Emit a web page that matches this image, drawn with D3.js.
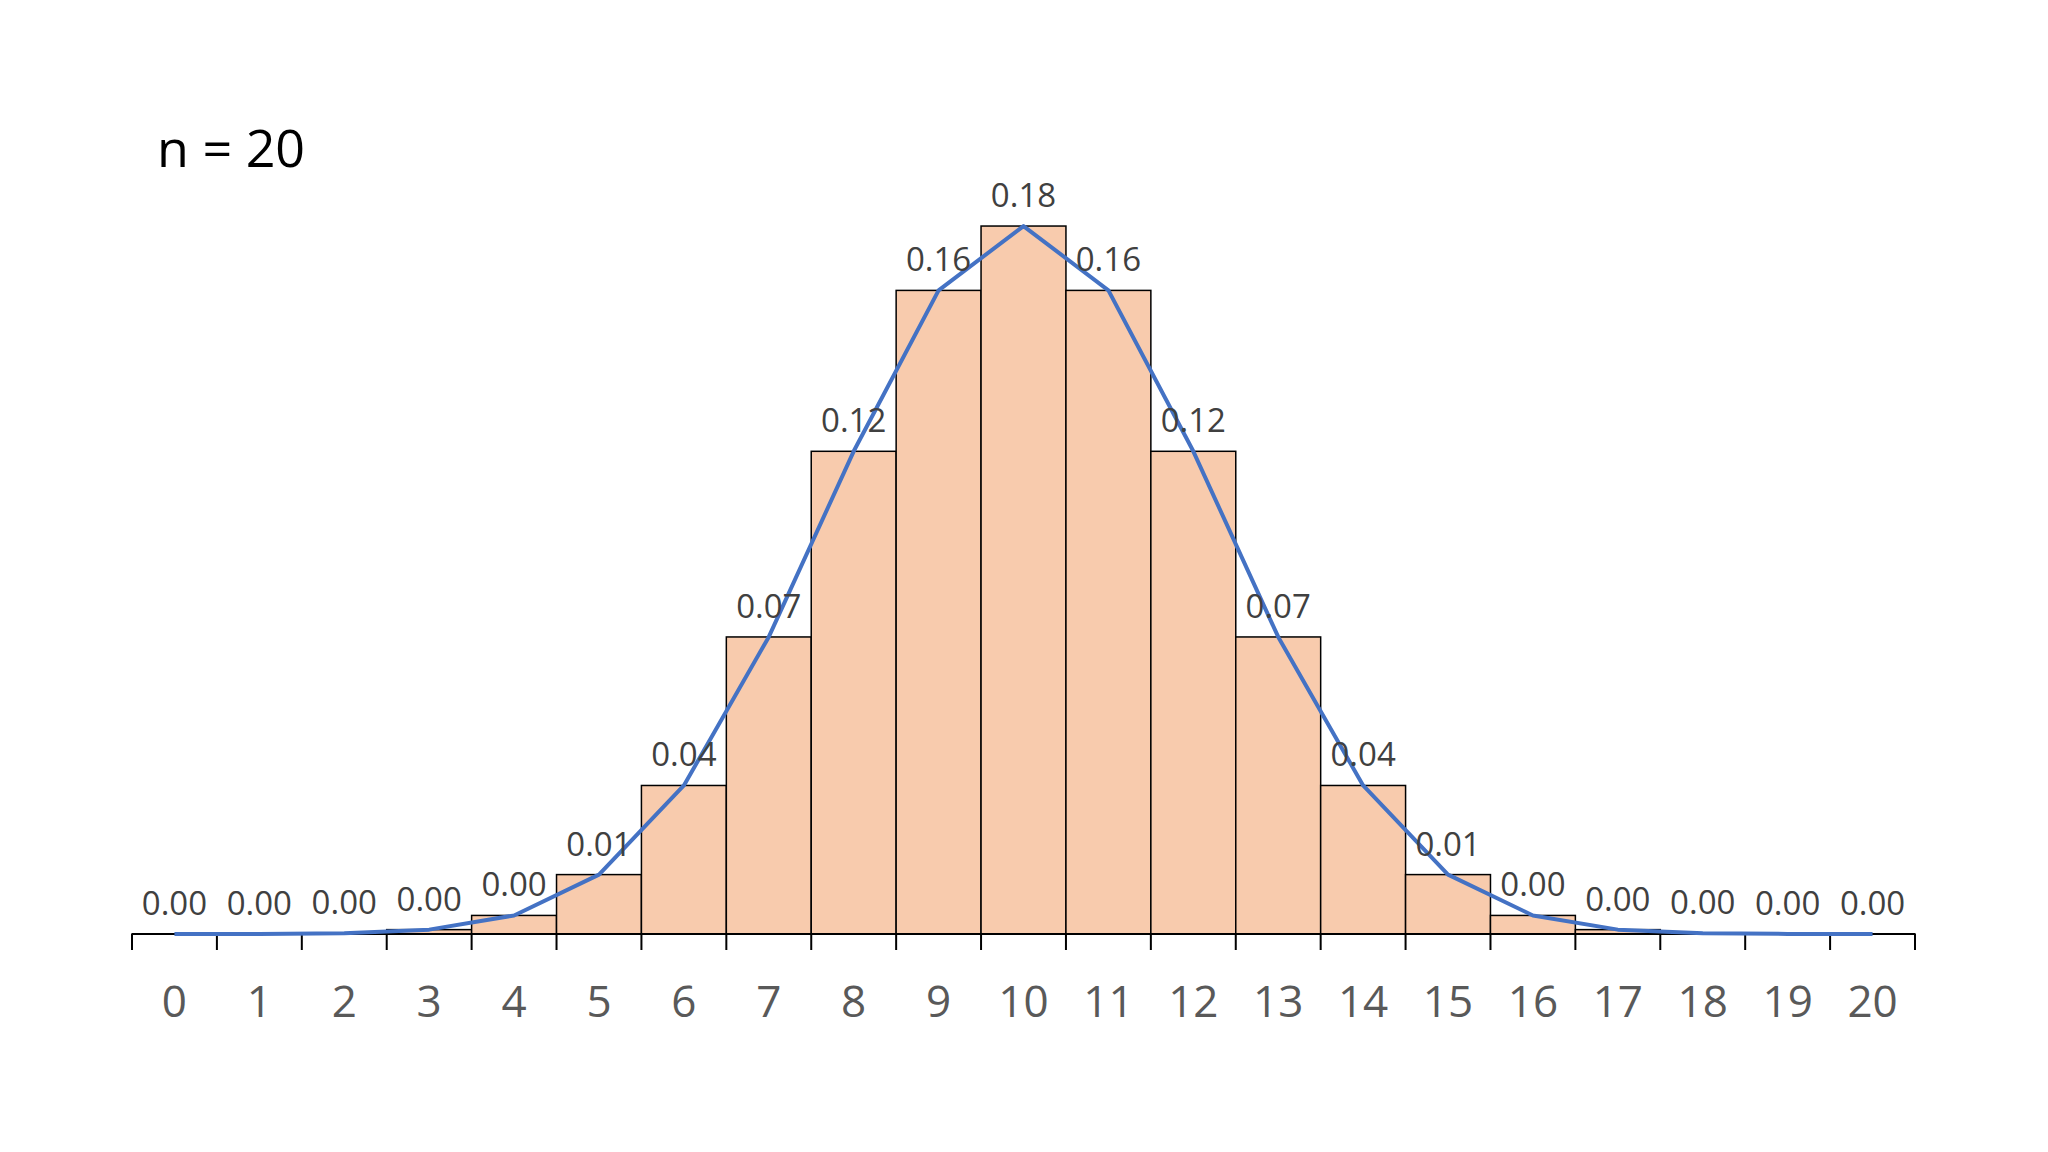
<!DOCTYPE html>
<meta charset="utf-8">
<style>
body { margin: 0; background: #fff; }
.bar { fill: #f8cbad; stroke: #000; stroke-width: 1.5; }
.line { fill: none; stroke: #4472c4; stroke-width: 4; stroke-linejoin: round; }
.lbl { font-family: "Open Sans", sans-serif; font-size: 33px; fill: #404040; text-anchor: middle; }
.xaxis text { font-family: "Open Sans", sans-serif; font-size: 44px; fill: #595959; }
.xaxis path, .xaxis line { stroke: #000; stroke-width: 2; }
</style>
<svg width="2048" height="1152"></svg>
<script src="https://cdn.jsdelivr.net/npm/d3@7"></script>
<script>

// outcomes k = 0..20
var ks = d3.range(21);
// probabilities (binomial n=20, p=0.5)
var probs = [0.000001, 0.000019, 0.000181, 0.001087, 0.004621, 0.014786, 0.036964,
             0.073929, 0.120134, 0.160179, 0.176197, 0.160179, 0.120134, 0.073929,
             0.036964, 0.014786, 0.004621, 0.001087, 0.000181, 0.000019, 0.000001];
var title = "n = 20";

var svg = d3.select("svg");

var x = d3.scaleBand()
    .domain(ks)
    .range([132, 1915])
    .padding(0);

var y = d3.scaleLinear()
    .domain([0, 0.2])
    .range([934, 130.4]);

var data = ks.map(function(k, i) { return { k: k, p: probs[i] }; });

svg.append("text")
    .attr("x", 157)
    .attr("y", 167)
    .style("font-family", "'Open Sans', sans-serif")
    .style("font-size", "52px")
    .style("fill", "#000")
    .text(title);

svg.append("g")
  .selectAll("rect")
    .data(data)
  .enter().append("rect")
    .attr("class", "bar")
    .attr("x", function(d) { return x(d.k); })
    .attr("y", function(d) { return y(d.p); })
    .attr("width", x.bandwidth())
    .attr("height", function(d) { return y(0) - y(d.p); });

// axis with ticks at bar edges
var xAxis = svg.append("g")
    .attr("class", "xaxis")
    .attr("transform", "translate(0," + y(0) + ")");

xAxis.append("line")
    .attr("x1", 132).attr("x2", 1915);

xAxis.selectAll("line.tick")
    .data(d3.range(22))
  .enter().append("line")
    .attr("class", "tick")
    .attr("x1", function(i) { return 132 + i * x.step(); })
    .attr("x2", function(i) { return 132 + i * x.step(); })
    .attr("y1", 0)
    .attr("y2", 16);

xAxis.selectAll("text")
    .data(ks)
  .enter().append("text")
    .attr("x", function(k) { return x(k) + x.bandwidth() / 2; })
    .attr("y", 83)
    .attr("text-anchor", "middle")
    .text(function(k) { return k; });

var line = d3.line()
    .x(function(d) { return x(d.k) + x.bandwidth() / 2; })
    .y(function(d) { return y(d.p); });

svg.append("path")
    .datum(data)
    .attr("class", "line")
    .attr("d", line);

var fmt = d3.format(".2f");
svg.append("g")
  .selectAll("text")
    .data(data)
  .enter().append("text")
    .attr("class", "lbl")
    .attr("x", function(d) { return x(d.k) + x.bandwidth() / 2; })
    .attr("y", function(d) { return y(d.p) - 19; })
    .text(function(d) { return fmt(d.p); });

</script>
